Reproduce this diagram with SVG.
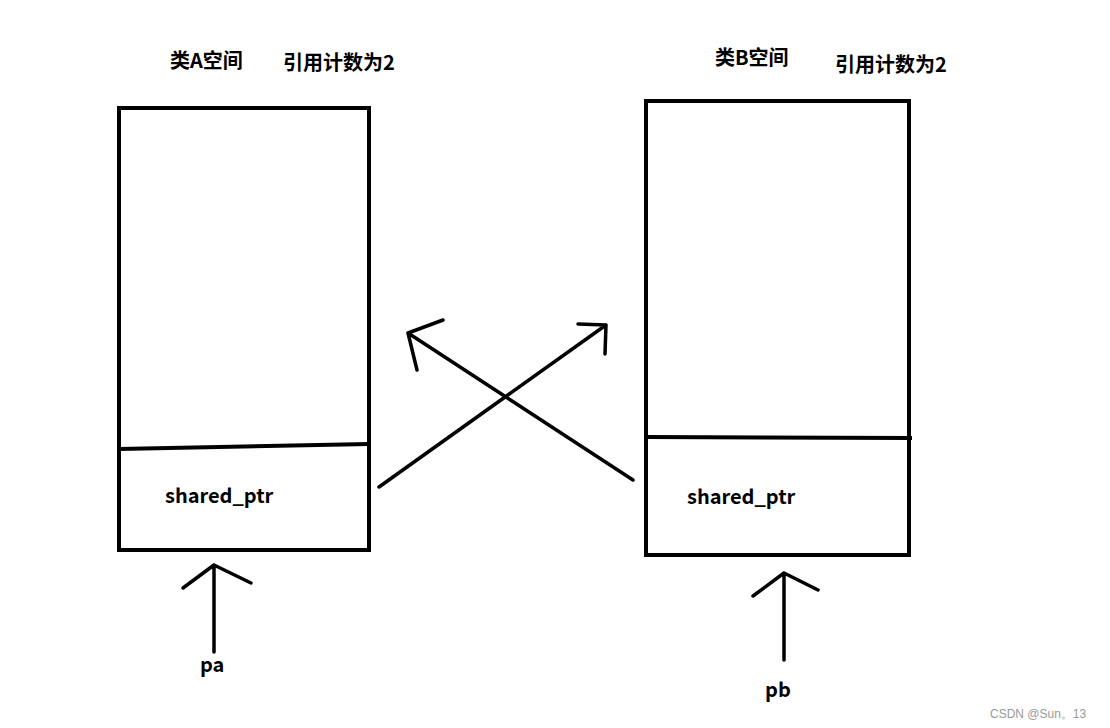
<svg xmlns="http://www.w3.org/2000/svg" width="1110" height="728" viewBox="0 0 1110 728">
<style>
.b{fill:none;stroke:#000;stroke-width:4}
.l{fill:none;stroke:#000;stroke-width:3.5;stroke-linecap:round;stroke-linejoin:round}
.t{font-family:"Microsoft YaHei","Noto Sans CJK SC",sans-serif;font-weight:bold;font-size:20px;fill:#000}
</style>
<rect width="1110" height="728" fill="#fff"/>
<g id="nodeA">
<rect class="b" x="119" y="108" width="250" height="442"/>
<line class="b" x1="119" y1="449" x2="369" y2="444"/>
<text class="t" x="170" y="68">类A空间</text>
<text class="t" x="283" y="70">引用计数为2</text>
<text class="t" x="165" y="503">shared_ptr</text>
</g>
<g id="nodeB">
<rect class="b" x="646" y="101" width="263" height="454"/>
<line class="b" x1="646" y1="437" x2="912" y2="438"/>
<text class="t" x="715" y="65">类B空间</text>
<text class="t" x="835" y="72">引用计数为2</text>
<text class="t" x="687" y="504">shared_ptr</text>
</g>
<g id="pa"><text class="t" x="200" y="672">pa</text></g>
<g id="pb"><text class="t" x="765" y="697">pb</text></g>
<g id="connectors">
<path class="l" d="M379,487 L606,325 M578,324 L606,325 L605,354"/>
<path class="l" d="M633,480 L408,333 M443,320 L408,333 L417,370"/>
<path class="l" d="M214,652 L214,565 M183,588 L214,565 L251,583"/>
<path class="l" d="M784,660 L784,573 M753,596 L784,573 L818,590"/>
</g>
<text x="990" y="718" font-family="Liberation Sans,sans-serif" font-size="12" fill="#999">CSDN @Sun。13</text>
</svg>
